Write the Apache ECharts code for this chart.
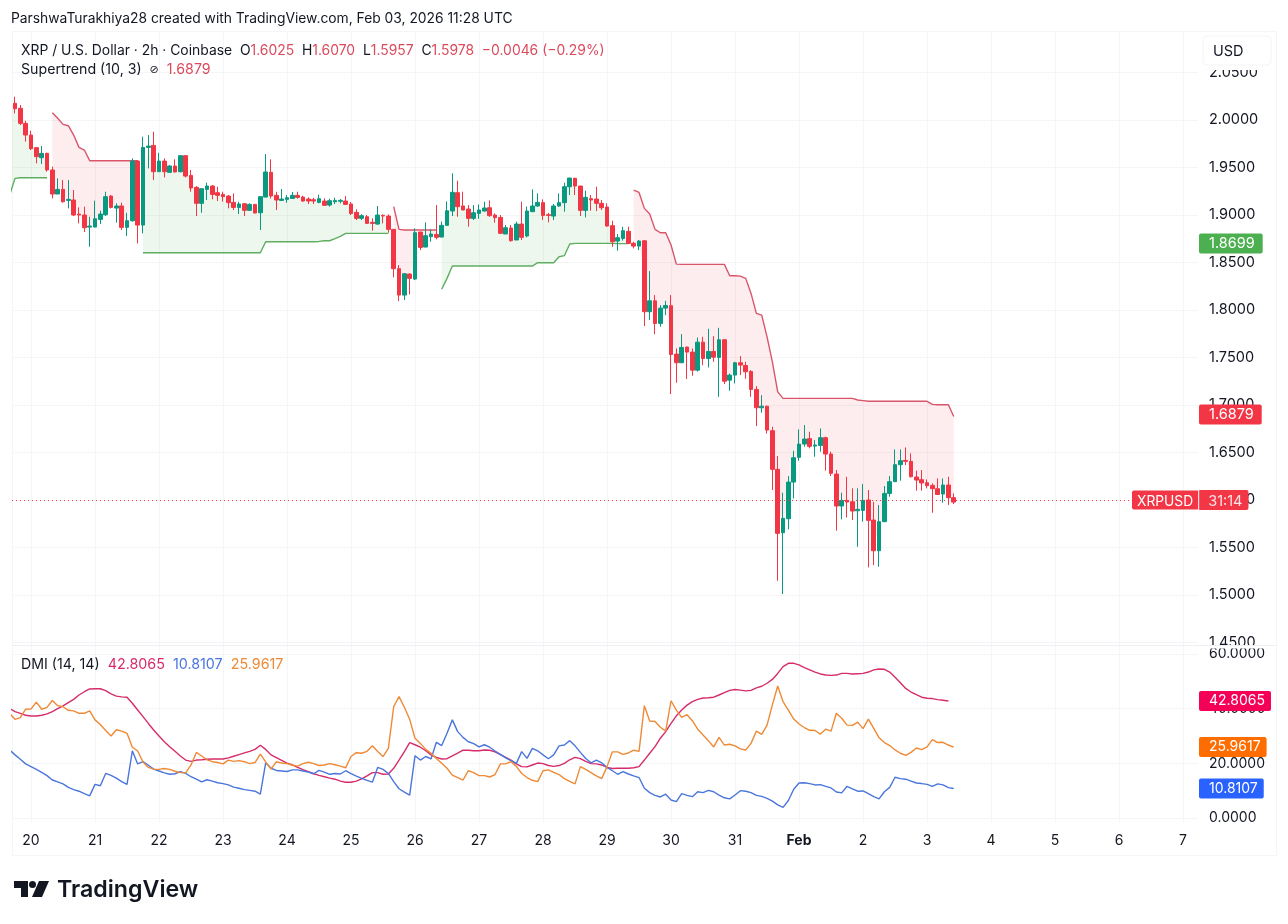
<!DOCTYPE html>
<html>
<head>
<meta charset="utf-8">
<title>XRP / U.S. Dollar</title>
<script src="https://cdn.jsdelivr.net/npm/echarts@6/dist/echarts.min.js"></script>
<style>
    html, body { margin: 0; padding: 0; background: #fff; }
    #chart { width: 1288px; height: 924px; }
</style>
</head>
<body>
<div id="chart"></div>
<script>
// 2h candles, oldest first. The first one sits just off the left edge of the plot
var opens = [
    2.0140, 2.0176, 2.0123, 1.9965, 1.9842, 1.9709, 1.9603, 1.9649, 1.9474, 1.9221, 1.9270, 1.9154,
    1.9158, 1.9010, 1.9000, 1.8873, 1.8873, 1.8954, 1.9003, 1.9200, 1.9073, 1.9095, 1.8870, 1.8940,
    1.9568, 1.8894, 1.9712, 1.9733, 1.9456, 1.9568, 1.9449, 1.9516, 1.9456, 1.9625, 1.9417, 1.9291,
    1.9123, 1.9270, 1.9305, 1.9235, 1.9217, 1.9200, 1.9133, 1.9080, 1.9119, 1.9049, 1.9112, 1.9024,
    1.9189, 1.9449, 1.9207, 1.9154, 1.9165, 1.9175, 1.9207, 1.9189, 1.9168, 1.9161, 1.9133, 1.9147,
    1.9105, 1.9140, 1.9144, 1.9147, 1.9116, 1.9028, 1.8965, 1.8982, 1.8923, 1.8905, 1.8996, 1.8989,
    1.8849, 1.8435, 1.8157, 1.8379, 1.8326, 1.8821, 1.8663, 1.8772, 1.8796, 1.8768, 1.8891, 1.9042,
    1.9235, 1.9095, 1.9063, 1.8965, 1.9017, 1.9042, 1.9077, 1.9000, 1.8975, 1.8800, 1.8863, 1.8737,
    1.8905, 1.8779, 1.9035, 1.9095, 1.9130, 1.9003, 1.8989, 1.9095, 1.9130, 1.9298, 1.9386, 1.9305,
    1.9049, 1.9172, 1.9168, 1.9123, 1.9084, 1.8888, 1.8726, 1.8754, 1.8828, 1.8702, 1.8673, 1.8729,
    1.7982, 1.8097, 1.7859, 1.8020, 1.8045, 1.7536, 1.7445, 1.7610, 1.7557, 1.7367, 1.7662, 1.7490,
    1.7564, 1.7501, 1.7687, 1.7262, 1.7315, 1.7445, 1.7416, 1.7353, 1.7164, 1.6971, 1.6988, 1.6730,
    1.6323, 1.5656, 1.5803, 1.6189, 1.6449, 1.6589, 1.6646, 1.6568, 1.6575, 1.6656, 1.6484, 1.6273,
    1.5937, 1.5996, 1.5982, 1.5887, 1.5891, 1.6000, 1.5789, 1.5466, 1.5772, 1.6070, 1.6193, 1.6372,
    1.6417, 1.6407, 1.6242, 1.6214, 1.6182, 1.6154, 1.6119, 1.6063, 1.6158, 1.6025
];
var closes = [
    2.0190, 2.0119, 1.9965, 1.9842, 1.9698, 1.9614, 1.9649, 1.9474, 1.9221, 1.9270, 1.9140, 1.9165,
    1.9000, 1.9000, 1.8866, 1.8884, 1.8961, 1.9010, 1.9193, 1.9080, 1.9095, 1.8870, 1.8940, 1.9568,
    1.8894, 1.9712, 1.9726, 1.9456, 1.9568, 1.9456, 1.9516, 1.9453, 1.9625, 1.9410, 1.9284, 1.9123,
    1.9277, 1.9305, 1.9217, 1.9207, 1.9193, 1.9130, 1.9080, 1.9116, 1.9049, 1.9112, 1.9021, 1.9193,
    1.9453, 1.9200, 1.9158, 1.9168, 1.9182, 1.9207, 1.9186, 1.9147, 1.9147, 1.9147, 1.9172, 1.9102,
    1.9151, 1.9154, 1.9154, 1.9112, 1.9017, 1.8965, 1.8993, 1.8912, 1.8912, 1.9000, 1.8989, 1.8849,
    1.8435, 1.8157, 1.8382, 1.8333, 1.8814, 1.8659, 1.8782, 1.8800, 1.8765, 1.8891, 1.9045, 1.9239,
    1.9088, 1.9053, 1.8965, 1.9024, 1.9053, 1.9074, 1.8993, 1.8972, 1.8807, 1.8866, 1.8730, 1.8905,
    1.8765, 1.9042, 1.9095, 1.9133, 1.8996, 1.8996, 1.9095, 1.9130, 1.9298, 1.9389, 1.9305, 1.9049,
    1.9186, 1.9158, 1.9123, 1.9077, 1.8884, 1.8719, 1.8761, 1.8835, 1.8702, 1.8673, 1.8726, 1.7982,
    1.8097, 1.7859, 1.8020, 1.8048, 1.7532, 1.7445, 1.7606, 1.7557, 1.7367, 1.7662, 1.7490, 1.7564,
    1.7504, 1.7687, 1.7251, 1.7315, 1.7445, 1.7420, 1.7350, 1.7164, 1.6971, 1.6988, 1.6736, 1.6323,
    1.5649, 1.5807, 1.6189, 1.6445, 1.6589, 1.6642, 1.6565, 1.6579, 1.6656, 1.6484, 1.6281, 1.5937,
    1.5996, 1.5979, 1.5884, 1.5902, 1.5996, 1.5786, 1.5466, 1.5772, 1.6070, 1.6193, 1.6372, 1.6414,
    1.6407, 1.6245, 1.6210, 1.6179, 1.6151, 1.6119, 1.6059, 1.6158, 1.6025, 1.5978
];
var lows = [
    2.0100, 2.0070, 1.9947, 1.9772, 1.9684, 1.9544, 1.9537, 1.9456, 1.9175, 1.9221, 1.9130, 1.9070,
    1.8989, 1.8912, 1.8821, 1.8666, 1.8870, 1.8905, 1.8989, 1.9070, 1.8919, 1.8842, 1.8779, 1.8930,
    1.8701, 1.8807, 1.9491, 1.9368, 1.9456, 1.9396, 1.9445, 1.9449, 1.9449, 1.9396, 1.9245, 1.8989,
    1.9024, 1.9158, 1.9165, 1.9147, 1.9140, 1.9070, 1.9052, 1.9010, 1.8989, 1.9045, 1.9017, 1.8842,
    1.9186, 1.9175, 1.9052, 1.9151, 1.9130, 1.9172, 1.9172, 1.9140, 1.9116, 1.9116, 1.9123, 1.9095,
    1.9088, 1.9116, 1.9123, 1.9105, 1.9000, 1.8947, 1.8947, 1.8912, 1.8835, 1.8895, 1.8912, 1.8814,
    1.8344, 1.8094, 1.8105, 1.8164, 1.8315, 1.8631, 1.8659, 1.8719, 1.8744, 1.8765, 1.8888, 1.8989,
    1.8982, 1.9053, 1.8877, 1.8947, 1.8961, 1.9035, 1.8982, 1.8919, 1.8800, 1.8800, 1.8719, 1.8737,
    1.8737, 1.8765, 1.9035, 1.9088, 1.8947, 1.8923, 1.8947, 1.9088, 1.9035, 1.9210, 1.9210, 1.8989,
    1.8975, 1.9046, 1.9042, 1.9053, 1.8877, 1.8666, 1.8624, 1.8730, 1.8694, 1.8649, 1.8631, 1.7831,
    1.7894, 1.7746, 1.7824, 1.7946, 1.7115, 1.7234, 1.7445, 1.7273, 1.7308, 1.7353, 1.7420, 1.7395,
    1.7455, 1.7086, 1.7220, 1.7150, 1.7227, 1.7315, 1.7276, 1.7086, 1.6778, 1.6918, 1.6700, 1.6105,
    1.5150, 1.5010, 1.5691, 1.6017, 1.6414, 1.6561, 1.6544, 1.6456, 1.6509, 1.6309, 1.6252, 1.5677,
    1.5796, 1.5817, 1.5789, 1.5508, 1.5772, 1.5291, 1.5315, 1.5298, 1.5772, 1.6035, 1.6193, 1.6203,
    1.6368, 1.6238, 1.6098, 1.6098, 1.6123, 1.5866, 1.6052, 1.5972, 1.5947, 1.5957
];
var highs = [
    2.0230, 2.0246, 2.0158, 1.9993, 1.9888, 1.9712, 1.9726, 1.9656, 1.9509, 1.9386, 1.9368, 1.9368,
    1.9263, 1.9080, 1.9088, 1.8982, 1.9151, 1.9045, 1.9245, 1.9210, 1.9123, 1.9130, 1.9024, 1.9596,
    1.9579, 1.9825, 1.9842, 1.9877, 1.9656, 1.9596, 1.9526, 1.9586, 1.9625, 1.9625, 1.9474, 1.9305,
    1.9280, 1.9340, 1.9316, 1.9298, 1.9245, 1.9210, 1.9228, 1.9140, 1.9123, 1.9123, 1.9116, 1.9200,
    1.9642, 1.9586, 1.9245, 1.9274, 1.9210, 1.9242, 1.9245, 1.9203, 1.9186, 1.9182, 1.9214, 1.9175,
    1.9172, 1.9182, 1.9168, 1.9200, 1.9137, 1.9060, 1.9010, 1.9000, 1.8965, 1.9095, 1.9007, 1.9007,
    1.8852, 1.8473, 1.8386, 1.8386, 1.8859, 1.8824, 1.8923, 1.8849, 1.9105, 1.8930, 1.9144, 1.9439,
    1.9361, 1.9246, 1.9105, 1.9105, 1.9112, 1.9140, 1.9154, 1.9017, 1.9000, 1.8895, 1.8895, 1.8930,
    1.9140, 1.9088, 1.9270, 1.9228, 1.9165, 1.9024, 1.9116, 1.9228, 1.9340, 1.9393, 1.9393, 1.9305,
    1.9256, 1.9210, 1.9298, 1.9158, 1.9123, 1.8940, 1.8800, 1.8877, 1.8877, 1.8719, 1.8737, 1.8736,
    1.8410, 1.8157, 1.8052, 1.8097, 1.8157, 1.7595, 1.7746, 1.7613, 1.7595, 1.7711, 1.7718, 1.7803,
    1.7725, 1.7813, 1.7690, 1.7332, 1.7455, 1.7515, 1.7455, 1.7367, 1.7199, 1.7104, 1.6992, 1.6772,
    1.6463, 1.6077, 1.6252, 1.6519, 1.6744, 1.6789, 1.6719, 1.6632, 1.6754, 1.6667, 1.6509, 1.6316,
    1.6077, 1.6245, 1.6123, 1.6123, 1.6168, 1.6105, 1.5982, 1.5947, 1.6147, 1.6252, 1.6533, 1.6533,
    1.6554, 1.6491, 1.6309, 1.6316, 1.6217, 1.6175, 1.6228, 1.6228, 1.6245, 1.6070
];

// Supertrend, one value per candle, null while the other side is active
var superUp = [
    1.9210, 1.9386, 1.9393, 1.9393, 1.9393, 1.9393, 1.9393, 1.9393, null, null, null, null,
    null, null, null, null, null, null, null, null, null, null, null, null,
    null, 1.8603, 1.8603, 1.8603, 1.8603, 1.8603, 1.8603, 1.8603, 1.8603, 1.8603, 1.8603, 1.8603,
    1.8603, 1.8603, 1.8603, 1.8603, 1.8603, 1.8603, 1.8603, 1.8603, 1.8603, 1.8603, 1.8603, 1.8603,
    1.8719, 1.8719, 1.8719, 1.8719, 1.8719, 1.8719, 1.8719, 1.8719, 1.8719, 1.8719, 1.8722, 1.8729,
    1.8729, 1.8751, 1.8775, 1.8807, 1.8807, 1.8807, 1.8807, 1.8807, 1.8807, 1.8807, 1.8807, 1.8807,
    null, null, null, null, null, null, null, null, null, 1.8218, 1.8333, 1.8463,
    1.8463, 1.8463, 1.8463, 1.8463, 1.8463, 1.8463, 1.8463, 1.8463, 1.8463, 1.8463, 1.8463, 1.8463,
    1.8463, 1.8463, 1.8463, 1.8498, 1.8498, 1.8498, 1.8498, 1.8561, 1.8572, 1.8695, 1.8702, 1.8702,
    1.8702, 1.8702, 1.8702, 1.8702, 1.8702, 1.8702, 1.8699, 1.8699, 1.8699, null, null, null,
    null, null, null, null, null, null, null, null, null, null, null, null,
    null, null, null, null, null, null, null, null, null, null, null, null,
    null, null, null, null, null, null, null, null, null, null, null, null,
    null, null, null, null, null, null, null, null, null, null, null, null,
    null, null, null, null, null, null, null, null, null, null
];
var superDown = [
    null, null, null, null, null, null, null, null, 2.0077, 2.0018, 1.9954, 1.9940,
    1.9842, 1.9712, 1.9684, 1.9572, 1.9572, 1.9572, 1.9572, 1.9572, 1.9572, 1.9572, 1.9572, 1.9572,
    1.9572, null, null, null, null, null, null, null, null, null, null, null,
    null, null, null, null, null, null, null, null, null, null, null, null,
    null, null, null, null, null, null, null, null, null, null, null, null,
    null, null, null, null, null, null, null, null, null, null, null, null,
    1.9088, 1.8849, 1.8842, 1.8842, 1.8842, 1.8842, 1.8842, 1.8842, 1.8842, null, null, null,
    null, null, null, null, null, null, null, null, null, null, null, null,
    null, null, null, null, null, null, null, null, null, null, null, null,
    null, null, null, null, null, null, null, null, null, 1.9263, 1.9238, 1.9070,
    1.9010, 1.8849, 1.8813, 1.8813, 1.8684, 1.8483, 1.8480, 1.8480, 1.8480, 1.8480, 1.8480, 1.8480,
    1.8480, 1.8480, 1.8480, 1.8361, 1.8361, 1.8357, 1.8333, 1.8175, 1.7964, 1.7946, 1.7718, 1.7455,
    1.7139, 1.7070, 1.7070, 1.7070, 1.7070, 1.7070, 1.7070, 1.7070, 1.7070, 1.7070, 1.7070, 1.7070,
    1.7070, 1.7070, 1.7070, 1.7053, 1.7046, 1.7039, 1.7039, 1.7039, 1.7039, 1.7039, 1.7039, 1.7039,
    1.7039, 1.7039, 1.7039, 1.7039, 1.7039, 1.7007, 1.7003, 1.7003, 1.7003, 1.6879
];

// DMI (14, 14), same bars as the candles
var adx = [
    40.1, 38.9, 38.3, 37.6, 37.3, 37.3, 37.6, 38.1, 38.9, 40.0, 41.0, 42.2,
    43.4, 45.0, 46.2, 47.2, 47.3, 47.3, 46.6, 45.4, 44.6, 44.3, 44.2, 42.0,
    39.5, 37.1, 34.6, 32.2, 30.0, 27.9, 26.1, 24.4, 22.7, 21.2, 20.7, 21.2,
    21.3, 21.5, 21.6, 21.6, 21.6, 22.0, 22.6, 23.2, 23.8, 24.4, 25.1, 26.6,
    25.1, 23.1, 22.1, 21.1, 20.1, 19.4, 18.5, 17.7, 17.0, 16.2, 15.6, 15.1,
    14.6, 14.2, 13.5, 13.1, 13.1, 13.5, 14.3, 15.4, 16.6, 16.6, 16.0, 16.1,
    18.2, 21.2, 24.3, 27.6, 26.8, 25.9, 24.6, 23.1, 22.2, 21.6, 21.7, 22.7,
    23.7, 24.8, 24.8, 24.6, 24.6,
    24.9, 24.8, 24.2, 23.2, 22.2, 21.2, 19.8, 18.8, 18.7, 19.4, 20.1, 19.9,
    19.2, 18.9, 19.2, 20.0, 21.3, 22.2, 21.7, 20.7, 19.9, 19.8, 19.4, 18.5,
    18.1, 18.2, 18.2, 18.2, 18.4, 18.8, 21.2, 23.7, 26.1, 29.2, 31.6, 34.6,
    37.4, 39.5, 41.3, 42.6, 43.4, 43.9, 44.0, 44.2, 45.0, 45.9, 46.7, 47.0,
    46.8, 46.5, 46.7, 47.6, 48.2, 49.3, 50.7, 52.9, 55.4, 56.6, 56.6, 56.0,
    55.0, 54.2, 53.4, 52.7, 52.3, 52.2, 52.3, 52.9, 52.9, 52.7, 52.8, 52.9,
    53.4, 54.2, 54.5, 54.4, 53.4, 51.5, 49.5, 47.4, 46.1, 45.1, 44.2, 43.8,
    43.7, 43.3, 43.1, 42.8065
];
var diPlus = [
    24.9, 23.1, 21.5, 19.8, 18.8, 17.8, 16.7, 15.5, 13.9, 13.2, 12.5, 11.2,
    10.4, 9.8, 8.9, 8.1, 12.3, 11.8, 16.3, 15.6, 14.6, 13.3, 12.3, 24.6,
    19.8, 20.6, 19.3, 17.9, 17.2, 16.5, 16.0, 16.2, 17.0, 16.3, 15.1, 14.2,
    13.2, 14.0, 13.5, 12.9, 12.6, 12.1, 11.3, 10.9, 10.4, 10.1, 9.8, 8.7,
    20.2, 18.2, 17.4, 17.2, 17.0, 17.6, 17.6, 17.2, 16.8, 16.2, 17.4, 16.8,
    16.0, 16.3, 16.1, 17.3, 16.2, 15.3, 14.5, 13.8, 13.1, 18.5, 17.8, 16.3,
    13.3, 10.7, 9.5, 8.4, 22.8, 21.2, 22.5, 21.6, 27.7, 26.5, 31.0, 35.9,
    31.6, 29.5, 27.9, 27.2, 26.0,
    26.8, 25.9, 24.5, 23.3, 22.0, 21.0, 20.0, 24.3, 21.8, 25.5, 24.6, 23.1,
    21.7, 23.1, 26.4, 26.7, 28.3, 26.4, 24.0, 21.8, 20.2, 21.2, 20.2, 18.5,
    17.3, 16.0, 17.0, 16.1, 15.4, 14.8, 10.9, 9.3, 8.3, 7.7, 8.7, 6.6,
    6.0, 8.9, 8.3, 7.8, 9.6, 9.3, 10.1, 9.6, 8.4, 7.4, 7.0, 8.4,
    10.0, 9.8, 9.3, 8.3, 7.9, 7.2, 6.2, 4.8, 3.9, 6.4, 10.5, 12.8,
    12.9, 12.6, 12.1, 12.2, 11.6, 11.0, 9.5, 9.2, 11.6, 10.7, 9.8, 9.9,
    8.9, 7.8, 7.0, 9.6, 11.2, 14.9, 14.4, 14.2, 13.5, 12.8, 12.6, 12.3,
    11.6, 12.5, 12.1, 11.1, 10.8107
];
var diMinus = [
    38.3, 36.1, 36.7, 39.8, 39.9, 42.4, 39.8, 40.5, 43.0, 41.1, 40.7, 39.4,
    39.2, 38.3, 38.3, 39.2, 35.9, 34.2, 32.0, 30.0, 32.3, 31.8, 31.0, 25.9,
    24.5, 20.5, 18.5, 17.9, 17.8, 18.1, 17.8, 17.1, 16.6, 16.5, 19.4, 24.0,
    22.7, 21.3, 20.6, 20.3, 19.8, 21.2, 20.7, 21.0, 20.6, 19.9, 20.3, 23.4,
    20.5, 17.9, 20.6, 20.1, 19.9, 19.3, 19.0, 19.9, 20.4, 19.9, 19.2, 19.4,
    19.9, 19.5, 19.0, 18.4, 22.5, 23.9, 23.7, 24.4, 26.4, 24.3, 22.5, 25.5,
    40.7, 44.4, 40.5, 36.1, 29.2, 27.3, 25.1, 23.7, 21.8, 20.0, 18.2, 15.7,
    14.8, 13.9, 17.3, 16.6, 15.5,
    15.5, 15.0, 15.9, 19.8, 19.8, 20.6, 18.9, 16.3, 14.8, 13.8, 13.3, 17.3,
    17.6, 16.7, 15.9, 14.4, 13.4, 12.5, 18.8, 17.8, 16.6, 15.4, 14.4, 18.8,
    24.2, 24.2, 23.3, 23.8, 24.8, 24.4, 41.1, 35.5, 35.3, 33.2, 31.8, 42.9,
    39.5, 36.8, 37.8, 35.6, 32.5, 30.4, 28.3, 26.0, 29.5, 26.7, 27.0, 26.4,
    25.3, 24.9, 27.3, 31.8, 30.6, 34.0, 41.4, 48.3, 42.6, 39.5, 36.2, 34.4,
    33.1, 32.1, 32.0, 30.7, 32.5, 31.8, 38.3, 36.5, 34.0, 33.9, 35.1, 32.7,
    36.2, 32.8, 29.4, 27.6, 26.5, 24.9, 23.7, 22.9, 24.0, 25.6, 25.0, 26.0,
    28.7, 27.6, 27.7, 26.7, 25.9617
];

var priceTicks = [1.45, 1.5, 1.55, 1.6, 1.65, 1.7, 1.75, 1.8, 1.85, 1.9, 1.95, 2.0, 2.05];
var dmiTicks = [0, 20, 40, 60];
var dayLabels = ['20', '21', '22', '23', '24', '25', '26', '27', '28', '29', '30', '31', 'Feb', '2', '3', '4', '5', '6', '7'];

var BARS_PER_DAY = 12;
var FIRST_BAR = -4; // bar number of the first candle, bar 0 is Jan 20 00:00
var LAST_PRICE = 1.5978;
var UP_COLOR = '#089981';
var DOWN_COLOR = '#F23645';
var FONT = 'Inter, "Liberation Sans", sans-serif';
var TEXT_COLOR = '#131722';
var GRID_COLOR = '#f4f5f7';

function barNo(i) {
    return FIRST_BAR + i;
}

// Tick positions on the bar number axis, one per day
var dayTicks = dayLabels.map(function(label, i) {
    return i * BARS_PER_DAY;
});

// Candle body middle, the supertrend fill reaches down or up to it
var mids = opens.map(function(o, i) {
    return (o + closes[i]) / 2;
});

function withBar(values) {
    return values.map(function(v, i) {
        return [barNo(i), v];
    });
}

// Supertrend fill. Each run of bars is drawn once as one polygon, line to body middle
function fillSeries(name, edge, color) {
    return {
        name: name,
        type: 'custom',
        xAxisIndex: 0,
        yAxisIndex: 0,
        clip: true,
        silent: true,
        z: 1,
        encode: { x: 0, y: 1 },
        data: withBar(mids),
        renderItem: function(params, api) {
            var i = params.dataIndex;
            if (edge[i] === null || (i > 0 && edge[i - 1] !== null)) {
                return null;
            }
            var top = [];
            var bottom = [];
            for (var j = i; j < edge.length && edge[j] !== null; j++) {
                top.push(api.coord([barNo(j), edge[j]]));
                bottom.unshift(api.coord([barNo(j), mids[j]]));
            }
            return {
                type: 'polygon',
                shape: { points: top.concat(bottom) },
                style: { fill: color }
            };
        }
    };
}

// Price tag in the axis column, hung on a see-through mark line
function tagLine(value, color, text, size, rightPad) {
    return {
        silent: true,
        symbol: 'none',
        animation: false,
        lineStyle: { color: 'transparent', width: 0 },
        label: {
            position: 'end',
            distance: 1,
            formatter: text,
            color: '#fff',
            fontFamily: FONT,
            fontSize: size,
            lineHeight: 15,
            backgroundColor: color,
            borderRadius: 2,
            padding: [4, rightPad, 1, 10]
        },
        data: [{ yAxis: value }]
    };
}

function lineSeries(name, values, color, yIndex, tag) {
    return {
        name: name,
        type: 'line',
        xAxisIndex: yIndex,
        yAxisIndex: yIndex,
        data: withBar(values),
        showSymbol: false,
        connectNulls: false,
        silent: true,
        z: 3,
        lineStyle: { color: color, width: 1.4 },
        markLine: tag
    };
}

var candleSeries = {
    name: 'XRPUSD',
    type: 'candlestick',
    xAxisIndex: 0,
    yAxisIndex: 0,
    barWidth: 4,
    z: 4,
    data: opens.map(function(o, i) {
        return [barNo(i), o, closes[i], lows[i], highs[i]];
    }),
    itemStyle: {
        color: UP_COLOR,
        color0: DOWN_COLOR,
        borderColor: UP_COLOR,
        borderColor0: DOWN_COLOR,
        borderWidth: 1
    },
    // Dotted last price line with the symbol and countdown tag
    markLine: {
        silent: true,
        symbol: 'none',
        animation: false,
        lineStyle: { color: DOWN_COLOR, type: [1, 3], width: 1 },
        label: {
            position: 'end',
            distance: [-66, 0],
            formatter: '{name|XRPUSD}{gap|}{time|31:14}',
            rich: {
                name: {
                    color: '#fff', backgroundColor: DOWN_COLOR, fontFamily: FONT, fontSize: 13.8,
                    lineHeight: 15, padding: [4, 5, 1, 5], borderRadius: [2, 0, 0, 2]
                },
                gap: { width: 1 },
                time: {
                    color: '#ffe3e6', backgroundColor: DOWN_COLOR, fontFamily: FONT, fontSize: 14.5,
                    lineHeight: 15, padding: [4, 6, 1, 9], borderRadius: [0, 2, 2, 0]
                }
            }
        },
        data: [{ yAxis: LAST_PRICE }]
    }
};

var series = [
    fillSeries('upFill', superUp, 'rgba(76,175,80,0.1)'),
    fillSeries('downFill', superDown, 'rgba(242,54,69,0.09)'),
    lineSeries('Supertrend Up', superUp, '#5DAE61', 0, tagLine(1.8699, '#4CAF50', '1.8699', 14.5, 8)),
    lineSeries('Supertrend Down', superDown, '#D9566A', 0, tagLine(1.6879, DOWN_COLOR, '1.6879', 14.5, 8)),
    candleSeries,
    lineSeries('ADX', adx, '#D62C6B', 1, tagLine(42.8065, '#F50057', '42.8065', 14, 6)),
    lineSeries('+DI', diPlus, '#4A76DC', 1, tagLine(10.8107, '#2962FF', '10.8107', 14, 6)),
    lineSeries('-DI', diMinus, '#EE8A36', 1, tagLine(25.9617, '#FF6D00', '25.9617', 14, 6))
];

function xAxisFor(gridIndex, showLabels) {
    return {
        type: 'value',
        gridIndex: gridIndex,
        min: -3.5625,
        max: 218.8,
        axisLine: { show: false },
        axisTick: { show: false, customValues: dayTicks },
        splitLine: { show: true, lineStyle: { color: GRID_COLOR, width: 1 } },
        axisLabel: {
            show: showLabels,
            customValues: dayTicks,
            margin: 12,
            color: TEXT_COLOR,
            fontFamily: FONT,
            fontSize: 14,
            hideOverlap: false,
            formatter: function(value) {
                var label = dayLabels[Math.round(value / BARS_PER_DAY)];
                return label === 'Feb' ? '{bold|Feb}' : label;
            },
            rich: { bold: { fontWeight: 'bold', fontFamily: FONT, fontSize: 14, color: TEXT_COLOR } }
        }
    };
}

function yAxisFor(gridIndex, min, max, ticks, size) {
    return {
        type: 'value',
        gridIndex: gridIndex,
        position: 'right',
        min: min,
        max: max,
        axisLine: { show: false },
        axisTick: { show: false, customValues: ticks },
        splitLine: { show: true, lineStyle: { color: GRID_COLOR, width: 1 } },
        axisLabel: {
            customValues: ticks,
            margin: 11,
            color: TEXT_COLOR,
            fontFamily: FONT,
            fontSize: size,
            hideOverlap: false,
            padding: [6, 0, 0, 0],
            formatter: function(value) {
                return value.toFixed(4);
            }
        }
    };
}

function headerText(top, left, formatter, size, rich) {
    return {
        left: left,
        top: top,
        text: formatter,
        padding: 0,
        textStyle: { fontFamily: FONT, fontSize: size, fontWeight: 'normal', color: TEXT_COLOR, rich: rich }
    };
}

var red = { fontFamily: FONT, fontSize: 13.9, color: '#DB4A5B' };
var plain = { fontFamily: FONT, fontSize: 13.9, color: TEXT_COLOR };
var plainWide = { fontFamily: FONT, fontSize: 14.2, color: TEXT_COLOR };

var titles = [
    headerText(12, 11, 'ParshwaTurakhiya28 created with TradingView.com, Feb 03, 2026 11:28 UTC', 13.83),
    headerText(44, 21,
        '{p|XRP / U.S. Dollar · 2h · Coinbase}  {p|O}{r|1.6025}  {p|H}{r|1.6070}  {p|L}{r|1.5957}  {p|C}{r|1.5978}  {r|−0.0046 (−0.29%)}',
        13.9, { p: plain, r: red }),
    headerText(63, 21, '{p|Supertrend (10, 3)}  {s|⊘}  {r|1.6879}', 14.2, {
        p: plainWide,
        r: { fontFamily: FONT, fontSize: 14.2, color: '#DB4A5B' },
        s: { fontFamily: '"DejaVu Sans"', fontSize: 11, color: TEXT_COLOR }
    }),
    headerText(658, 21, '{p|DMI (14, 14)}  {a|42.8065}  {b|10.8107}  {c|25.9617}', 14.3, {
        p: plainWide,
        a: { fontFamily: FONT, fontSize: 14.3, color: '#D62C6B' },
        b: { fontFamily: FONT, fontSize: 14.3, color: '#4A76DC' },
        c: { fontFamily: FONT, fontSize: 14.3, color: '#EE8A36' }
    })
];

// Frame, pane divider, masks that cut the outer axis labels, USD box and logo
var decorations = [
    { type: 'rect', z: -1, silent: true, shape: { x: 12.5, y: 31.5, width: 1264, height: 824 },
      style: { fill: 'none', stroke: '#f4f5f7', lineWidth: 1 } },
    { type: 'rect', z: 1, silent: true, shape: { x: 1200, y: 33, width: 74, height: 37 },
      style: { fill: '#fff' } },
    { type: 'rect', z: 1, silent: true, shape: { x: 1203, y: 36, width: 68, height: 29, r: 4 },
      style: { fill: '#fff', stroke: '#f3f4f6', lineWidth: 1 } },
    { type: 'text', z: 1, silent: true, x: 1213, y: 44,
      style: { text: 'USD', font: '14.5px ' + FONT, fill: TEXT_COLOR } },
    { type: 'rect', z: 1, silent: true, shape: { x: 1200, y: 645.5, width: 74, height: 3 },
      style: { fill: '#fff' } },
    { type: 'rect', z: 1, silent: true, shape: { x: 1200, y: 823, width: 74, height: 6 },
      style: { fill: '#fff' } },
    { type: 'line', z: 1, silent: true, shape: { x1: 12, y1: 645.5, x2: 1276, y2: 645.5 },
      style: { stroke: '#eeeff2', lineWidth: 1 } },
    { type: 'polygon', silent: true,
      shape: { points: [[14, 881], [28, 881], [28, 897], [21, 897], [21, 888], [14, 888]] },
      style: { fill: '#131722' } },
    { type: 'circle', silent: true, shape: { cx: 32.5, cy: 884.5, r: 3.5 }, style: { fill: '#131722' } },
    { type: 'polygon', silent: true,
      shape: { points: [[39, 881], [49, 881], [42, 897], [32, 897]] },
      style: { fill: '#131722' } },
    { type: 'text', silent: true, x: 57, y: 879,
      style: { text: 'TradingView', font: '600 23.2px ' + FONT, fill: '#131722' } }
];

var chart = echarts.init(document.getElementById('chart'));
chart.setOption({
    animation: false,
    backgroundColor: '#fff',
    title: titles,
    graphic: decorations,
    grid: [
        { left: 12, top: 31, width: 1186, height: 614 },
        { left: 12, top: 646, width: 1186, height: 176 }
    ],
    xAxis: [xAxisFor(0, false), xAxisFor(1, true)],
    yAxis: [
        yAxisFor(0, 1.4474, 2.0937, priceTicks, 14.5),
        yAxisFor(1, -1.46, 62.93, dmiTicks, 14)
    ],
    series: series
});
</script>
</body>
</html>
